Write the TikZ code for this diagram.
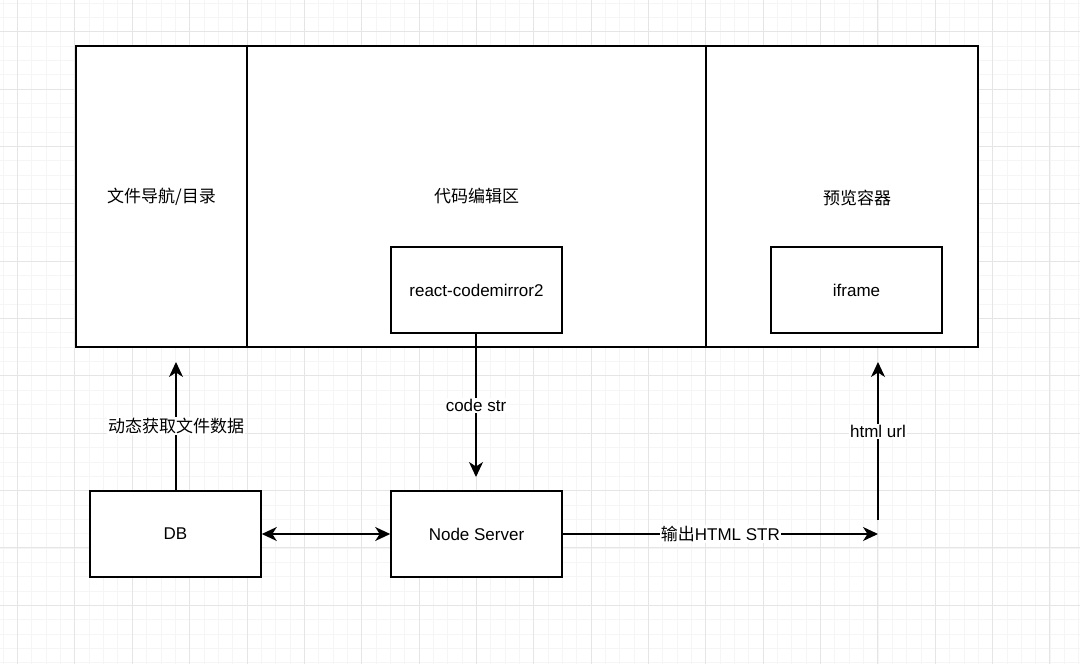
\documentclass[tikz,border=0pt]{standalone}
\usepackage{fontspec}
\setmainfont{Liberation Sans}
\newfontfamily\cjk{Noto Sans CJK SC}
\usetikzlibrary{arrows.meta,positioning}

\tikzset{
  gridminor/.style={draw=black!4, line width=0.8pt},
  gridmajor/.style={draw=black!10, line width=0.8pt},
  panel/.style={rectangle, draw, fill=white, line width=1.6pt, inner sep=0pt},
  box/.style={rectangle, draw, fill=white, line width=1.6pt, inner sep=0pt, minimum width=171pt, minimum height=86pt},
  tip/.tip={Stealth[length=15pt,width=14pt,inset=4.5pt]},
  conn/.style={line width=1.6pt, -tip},
  lbl/.style={fill=white, inner sep=1pt}
}

\begin{document}
\begin{tikzpicture}[x=1pt, y=-1pt, font=\fontsize{17}{20}\selectfont]
\useasboundingbox (0,0) rectangle (1080,664);
\fill[white] (0,0) rectangle (1080,664);
% grid
\foreach \i in {0,...,75}
  \draw[gridminor] ({3.16+14.34*\i},0) -- ({3.16+14.34*\i},664);
\foreach \j in {0,...,46}
  \draw[gridminor] (0,{3.02+14.34*\j}) -- (1080,{3.02+14.34*\j});
\foreach \k in {0,...,18}
  \draw[gridmajor] ({17.5+57.35*\k},0) -- ({17.5+57.35*\k},664);
\foreach \k in {0,...,10}
  \draw[gridmajor] (0,{31.7+57.35*\k}) -- (1080,{31.7+57.35*\k});

% panels
\node[panel, minimum width=171pt, minimum height=301pt] (nav) at (161.5,196.5) {\cjk 文件导航/目录};
\node[panel, minimum width=459pt, minimum height=301pt] (editor) at (476.5,196.5) {\cjk 代码编辑区};
\node[panel, minimum width=272pt, minimum height=301pt] (preview) at (842,196.5) {};
\node (prevlbl) at (857,198) {\cjk 预览容器};

\node[box] (cm) at (476.5,290) {react-codemirror2};
\node[box] (iframe) at (856.5,290) {iframe};
\node[box] (db) at (175.5,534) {DB};
\node[box] (server) at (476.5,534) {Node Server};

\coordinate (navin) at (176,362);
\coordinate (codein) at (476,477);
\coordinate (outend) at (878,534);
\coordinate (urlstart) at (878,520);
\coordinate (urlend) at (878,362);

\draw[conn] (db.north -| navin) -- node[lbl] {\cjk 动态获取文件数据} (navin);
\draw[conn] (cm.south -| codein) -- node[lbl] {code str} (codein);
\draw[conn, tip-tip] (db) -- (server);
\draw[conn] (server) -- node[lbl] {{\cjk 输出}HTML STR} (outend);
\draw[conn] (urlstart) -- node[lbl, pos=0.56] {html url} (urlend);
\end{tikzpicture}
\end{document}
